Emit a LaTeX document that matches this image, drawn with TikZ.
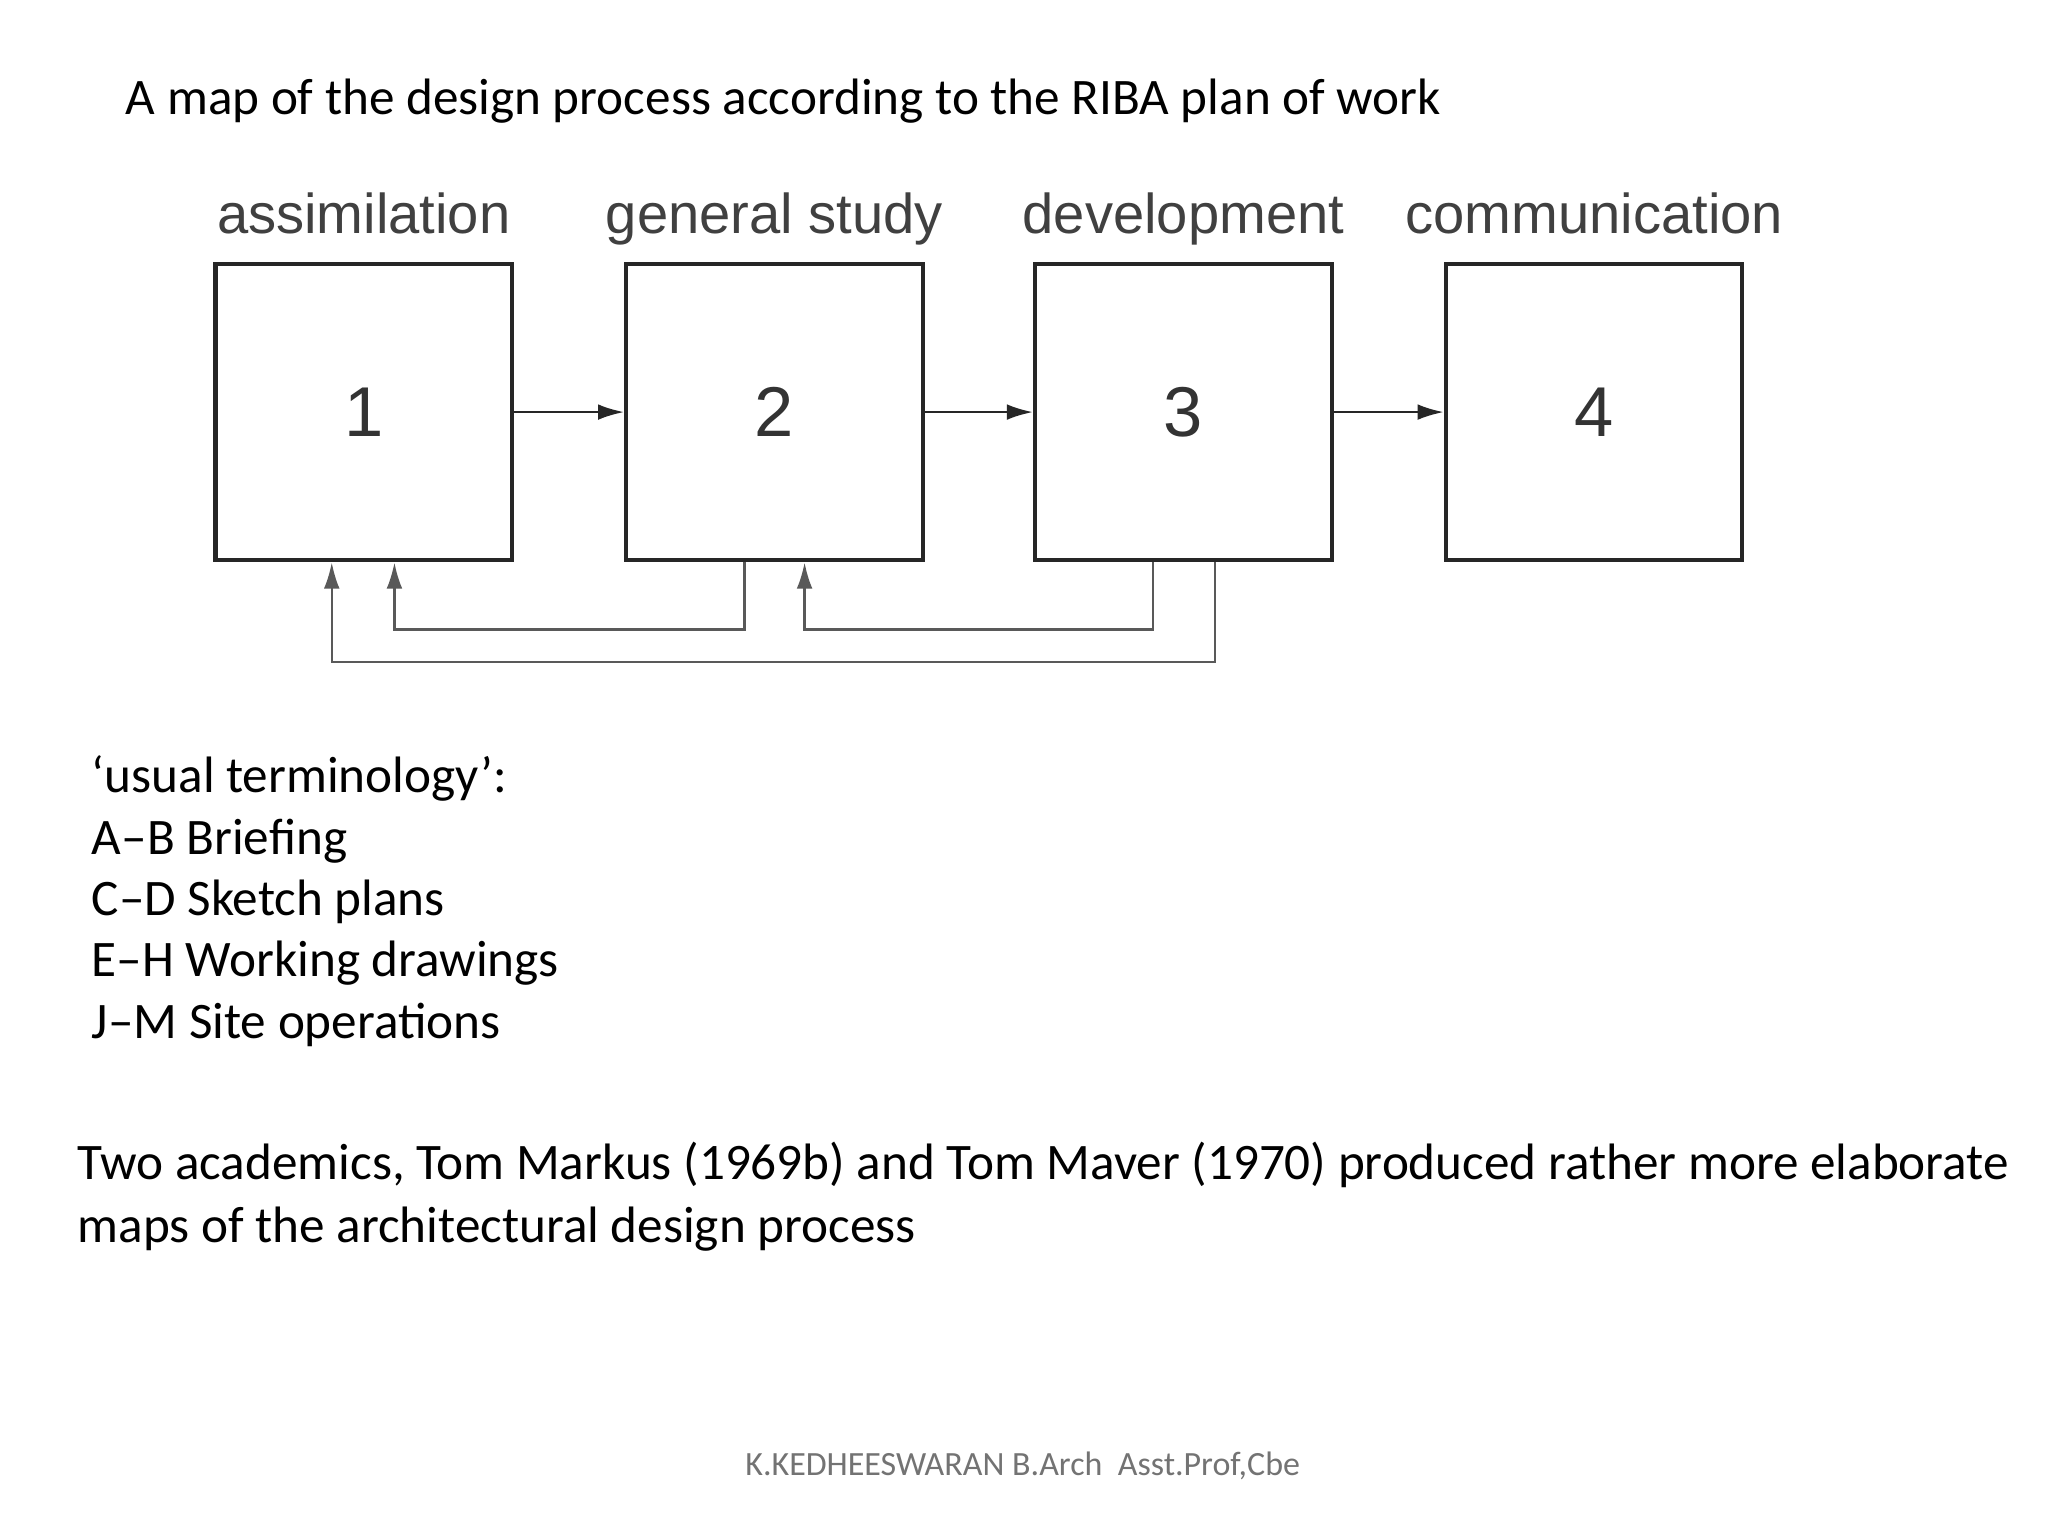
\documentclass[tikz,border=0pt]{standalone}
\usepackage{fontspec}
\setmainfont{Carlito}
\newfontfamily\hel{Liberation Sans}
\usetikzlibrary{arrows.meta}
\begin{document}
\begin{tikzpicture}[x=0.5pt,y=-0.5pt,
  stage/.style={draw=black!85,line width=1.6pt,minimum width=113.5pt,minimum height=113.5pt,inner sep=0,font=\hel\fontsize{27}{30}\selectfont,text=black!80},
  lbl/.style={font=\hel\fontsize{21.5}{24}\selectfont,text=black!75,anchor=base},
  fw/.style={-{Latex[length=10pt,width=6pt]},line width=1pt,black!85},
  fb/.style={-{Latex[length=10pt,width=6pt]},line width=0.9pt,black!65},
  txt/.style={font=\fontsize{19.6}{23.5}\selectfont,anchor=base west,inner sep=0}]
\useasboundingbox[fill=white] (0,0) rectangle (1568,1176);
\node[txt] (title) at (96,88) {A map of the design process according to the RIBA plan of work};
\node[stage] (b1) at (278.5,315.5) {1};
\node[stage] (b2) at (593,315.5) {2};
\node[stage] (b3) at (906,315.5) {3};
\node[stage] (b4) at (1220.5,315.5) {4};
\node[lbl] (l1) at (278.5,179) {assimilation};
\node[lbl] (l2) at (593,179) {general study};
\node[lbl] (l3) at (906,179) {development};
\node[lbl] (l4) at (1220.5,179) {communication};
\draw[fw] (b1) -- (b2);
\draw[fw] (b2) -- (b3);
\draw[fw] (b3) -- (b4);
\coordinate (p1) at (570,482); \coordinate (p2) at (302,482);
\coordinate (q1) at (883,482); \coordinate (q2) at (616,482);
\coordinate (r1) at (930,507); \coordinate (r2) at (254,507);
\draw[fb] (b2.south -| p1) -- (p1) -- (p2) -- (b1.south -| p2);
\draw[fb] (b3.south -| q1) -- (q1) -- (q2) -- (b2.south -| q2);
\draw[fb] (b3.south -| r1) -- (r1) -- (r2) -- (b1.south -| r2);
\node[txt] (t0) at (70,607) {‘usual terminology’:};
\node[txt] (t1) at (70,654) {A–B Briefing};
\node[txt] (t2) at (70,701) {C–D Sketch plans};
\node[txt] (t3) at (70,748) {E–H Working drawings};
\node[txt] (t4) at (70,795) {J–M Site operations};
\node[txt] (p) at (59,903) {Two academics, Tom Markus (1969b) and Tom Maver (1970) produced rather more elaborate};
\node[txt] (pp) at (59,951) {maps of the architectural design process};
\node[font=\fontsize{13}{15}\selectfont,text=black!55,anchor=base] (f) at (783,1130) {K.KEDHEESWARAN B.Arch\ \ Asst.Prof,Cbe};
\end{tikzpicture}
\end{document}
